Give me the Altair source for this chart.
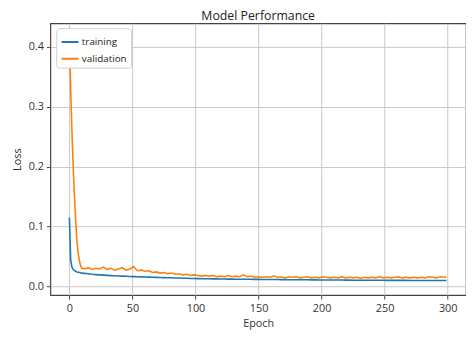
import altair as alt
import pandas as pd

epochs = [0, 1, 2, 3, 4, 5, 6, 7, 8, 9, 10,
          12, 15, 18, 21, 24, 27, 30, 33, 36, 39, 42, 45, 48, 51, 54, 57, 60,
          63, 66, 69, 72, 75, 78, 81, 84, 87, 90, 93, 96, 99, 102, 105, 108,
          111, 114, 117, 120, 123, 126, 129, 132, 135, 138, 141, 144, 147, 150,
          153, 156, 159, 162, 165, 168, 171, 174, 177, 180, 183, 186, 189, 192,
          195, 198, 201, 204, 207, 210, 213, 216, 219, 222, 225, 228, 231, 234,
          237, 240, 243, 246, 249, 252, 255, 258, 261, 264, 267, 270, 273, 276,
          279, 282, 285, 288, 291, 294, 297, 299]

training = [0.115, 0.045, 0.032, 0.028, 0.026, 0.025, 0.024, 0.0235, 0.023, 0.0225, 0.022,
            0.0215, 0.0208, 0.0200, 0.0195, 0.0190, 0.0186, 0.0182, 0.0178, 0.0175, 0.0172,
            0.0169, 0.0166, 0.0164, 0.0161, 0.0159, 0.0157, 0.0155,
            0.0153, 0.0151, 0.0149, 0.0147, 0.0145, 0.0143, 0.0141, 0.0139, 0.0137, 0.0135,
            0.0133, 0.0131, 0.0129, 0.0128, 0.0127, 0.0126,
            0.0125, 0.0124, 0.0123, 0.0122, 0.0121, 0.0120, 0.0119, 0.0118, 0.0118, 0.0117,
            0.0116, 0.0116, 0.0115, 0.0115,
            0.0114, 0.0113, 0.0113, 0.0112, 0.0112, 0.0111, 0.0111, 0.0110, 0.0110, 0.0109,
            0.0109, 0.0108, 0.0108, 0.0107,
            0.0107, 0.0106, 0.0106, 0.0105, 0.0105, 0.0104, 0.0104, 0.0104, 0.0103, 0.0103,
            0.0102, 0.0102, 0.0102, 0.0101,
            0.0101, 0.0101, 0.0100, 0.0100, 0.0100, 0.0099, 0.0099, 0.0099, 0.0098, 0.0098,
            0.0098, 0.0097, 0.0097, 0.0097,
            0.0096, 0.0096, 0.0096, 0.0096, 0.0095, 0.0095, 0.0095, 0.0095]

validation = [0.42, 0.33, 0.26, 0.20, 0.15, 0.11, 0.075, 0.055, 0.042, 0.034, 0.030,
              0.029, 0.031, 0.028, 0.030, 0.029, 0.032, 0.028, 0.030, 0.027, 0.029,
              0.031, 0.027, 0.029, 0.033, 0.026, 0.027, 0.025,
              0.026, 0.023, 0.024, 0.022, 0.023, 0.021, 0.022, 0.020, 0.021, 0.019,
              0.020, 0.018, 0.019, 0.018, 0.017, 0.018,
              0.017, 0.018, 0.016, 0.017, 0.016, 0.018, 0.016, 0.017, 0.016, 0.019,
              0.016, 0.017, 0.015, 0.016,
              0.015, 0.016, 0.015, 0.017, 0.015, 0.016, 0.014, 0.016, 0.015, 0.016,
              0.014, 0.015, 0.016, 0.014,
              0.015, 0.014, 0.016, 0.015, 0.014, 0.015, 0.014, 0.016, 0.014, 0.015,
              0.014, 0.015, 0.013, 0.015,
              0.014, 0.015, 0.014, 0.016, 0.014, 0.015, 0.014, 0.015, 0.016, 0.014,
              0.015, 0.014, 0.015, 0.014,
              0.015, 0.014, 0.016, 0.015, 0.014, 0.016, 0.015, 0.015]

series_names = ["training", "validation"]
series_colors = ["#1f77b4", "#ff7f0e"]
x_ticks = [0, 50, 100, 150, 200, 250, 300]
y_ticks = [0.0, 0.1, 0.2, 0.3, 0.4]

rows = []
for e, t, v in zip(epochs, training, validation):
    rows.append({"Epoch": e, "Loss": t, "series": "training"})
    rows.append({"Epoch": e, "Loss": v, "series": "validation"})
df = pd.DataFrame(rows)

FONT = "Open Sans"

chart = alt.Chart(df).mark_line(strokeWidth=1.6, clip=True).encode(
    x=alt.X("Epoch:Q", scale=alt.Scale(domain=[-15.1, 314.5], nice=False, zero=False),
            axis=alt.Axis(values=x_ticks, title="Epoch", format="d")),
    y=alt.Y("Loss:Q", scale=alt.Scale(domain=[-0.0148, 0.4395], nice=False, zero=False),
            axis=alt.Axis(values=y_ticks, title="Loss", format=".1f")),
    color=alt.Color("series:N",
                    scale=alt.Scale(domain=series_names, range=series_colors),
                    legend=alt.Legend(title=None, orient="none", legendX=6, legendY=5,
                                      symbolType="stroke", symbolSize=300, symbolStrokeWidth=2,
                                      labelFontSize=10, labelFont=FONT, labelColor="#222",
                                      fillColor="white", strokeColor="#d0d0d0",
                                      padding=4, cornerRadius=3, rowPadding=2,
                                      labelOffset=2)),
    order=alt.Order("series:N"),
).properties(
    width=422, height=276,
    title=alt.TitleParams("Model Performance", fontSize=12.5, font=FONT,
                          fontWeight="normal", color="#222", offset=1),
    autosize=alt.AutoSizeParams(type="none"),
    padding={"left": 43, "top": 13, "right": 0, "bottom": 40},
).configure_axis(
    grid=True, gridColor="#c8c8c8", gridWidth=1,
    domain=False, tickColor="#444", tickSize=4,
    labelFont=FONT, labelFontSize=11, labelColor="#333",
    titleFont=FONT, titleFontSize=11, titleColor="#333", titleFontWeight="normal",
).configure_axisX(
    labelPadding=4, titlePadding=4,
).configure_axisY(
    labelPadding=3, titlePadding=6,
).configure_view(
    stroke="#444", strokeWidth=1.2,
)

chart.save("out.html", embed_options={"renderer": "svg", "actions": False})
